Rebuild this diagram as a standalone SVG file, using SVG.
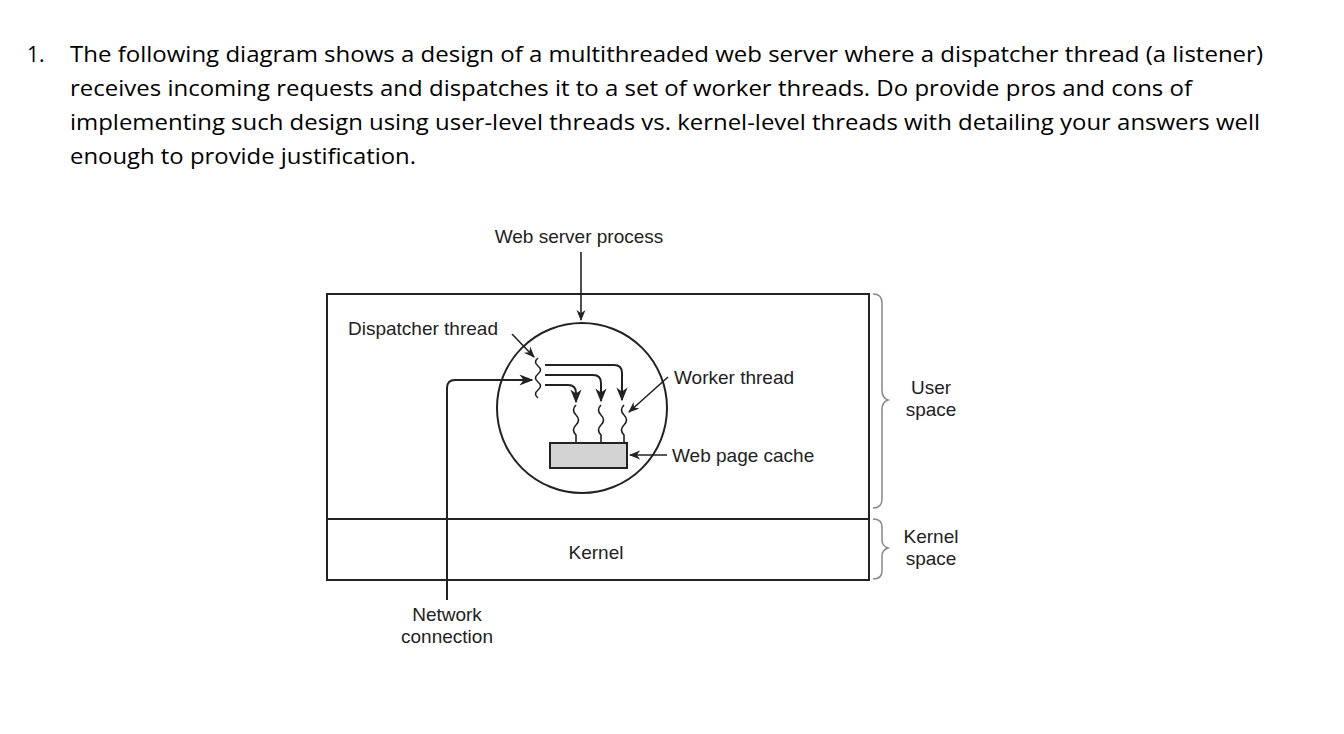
<svg xmlns="http://www.w3.org/2000/svg" width="1344" height="734" viewBox="0 0 1344 734">
<style>
.q{font-family:"Open Sans","Liberation Sans",sans-serif;font-size:21px;fill:#000}
.l{font-family:"Liberation Sans",Arial,sans-serif;font-size:19px;fill:#222}
.s{fill:none;stroke:#222;stroke-width:2}
.t{fill:none;stroke:#222;stroke-width:1.6}
.b{fill:none;stroke:#888;stroke-width:1.5}
</style>
<defs><marker id="a" viewBox="0 0 10 10" refX="9" refY="5" markerWidth="7" markerHeight="7" orient="auto"><path d="M0,1 L10,5 L0,9 L3,5 Z" fill="#222"/></marker></defs>
<rect width="1344" height="734" fill="#fff"/>
<text class="q" x="27" y="62">1.</text>
<text class="q" x="70" y="62" textLength="1193" lengthAdjust="spacingAndGlyphs">The following diagram shows a design of a multithreaded web server where a dispatcher thread (a listener)</text>
<text class="q" x="70" y="96" textLength="1122" lengthAdjust="spacingAndGlyphs">receives incoming requests and dispatches it to a set of worker threads.  Do provide pros and cons of</text>
<text class="q" x="70" y="130" textLength="1190" lengthAdjust="spacingAndGlyphs">implementing such design using user-level threads vs. kernel-level threads with detailing your answers well</text>
<text class="q" x="70" y="164" textLength="346" lengthAdjust="spacingAndGlyphs">enough to provide justification.</text>
<g id="box"><rect class="s" x="327" y="294" width="542" height="286"/><line class="s" x1="327" y1="519" x2="869" y2="519"/></g>
<g id="process"><circle class="s" cx="582" cy="408" r="85"/></g>
<g id="dispatcher"><path class="t" d="M538,358 q-5,4 0,8 q5,4 0,8 q-5,4 0,8 q5,4 0,8 q-5,4 0,8"/></g>
<g id="workers">
<path class="t" d="M576,405 q-5,5 0,10 q5,5 0,10 q-5,5 0,10 v8"/>
<path class="t" d="M601,405 q-5,5 0,10 q5,5 0,10 q-5,5 0,10 v8"/>
<path class="t" d="M624,405 q-5,5 0,10 q5,5 0,10 q-5,5 0,10 v8"/>
</g>
<g id="cache"><rect x="550" y="443" width="77" height="25" fill="#d3d3d3" stroke="#222" stroke-width="2"/></g>
<g id="connectors">
<line class="t" x1="581" y1="252" x2="581" y2="320" marker-end="url(#a)"/>
<line class="t" x1="512" y1="334" x2="534" y2="357" marker-end="url(#a)"/>
<path class="s" d="M447,600 V388 q0,-8 8,-8 H532" marker-end="url(#a)"/>
<path class="s" d="M545,365 H614 q8,0 8,8 V400" marker-end="url(#a)"/>
<path class="s" d="M545,375 H593 q8,0 8,8 V401" marker-end="url(#a)"/>
<path class="s" d="M545,385 H568 q8,0 8,8 V402" marker-end="url(#a)"/>
<line class="t" x1="668" y1="377" x2="629" y2="412" marker-end="url(#a)"/>
<line class="t" x1="667" y1="455" x2="630" y2="455" marker-end="url(#a)"/>
</g>
<g id="braces">
<path class="b" d="M873,294 q9,0 9,9 V390 q0,8 6,10 q-6,2 -6,10 V499 q0,9 -9,9"/>
<path class="b" d="M873,519 q9,0 9,8 V540 q0,6 6,8 q-6,2 -6,8 V571 q0,8 -9,8"/>
</g>
<g id="labels">
<text class="l" x="579" y="243" text-anchor="middle">Web server process</text>
<text class="l" x="348" y="335">Dispatcher thread</text>
<text class="l" x="674" y="384">Worker thread</text>
<text class="l" x="672" y="462">Web page cache</text>
<text class="l" x="596" y="559" text-anchor="middle">Kernel</text>
<text class="l" x="447" y="621" text-anchor="middle">Network</text>
<text class="l" x="447" y="643" text-anchor="middle">connection</text>
<text class="l" x="931" y="394" text-anchor="middle">User</text>
<text class="l" x="931" y="416" text-anchor="middle">space</text>
<text class="l" x="931" y="543" text-anchor="middle">Kernel</text>
<text class="l" x="931" y="565" text-anchor="middle">space</text>
</g>
</svg>
